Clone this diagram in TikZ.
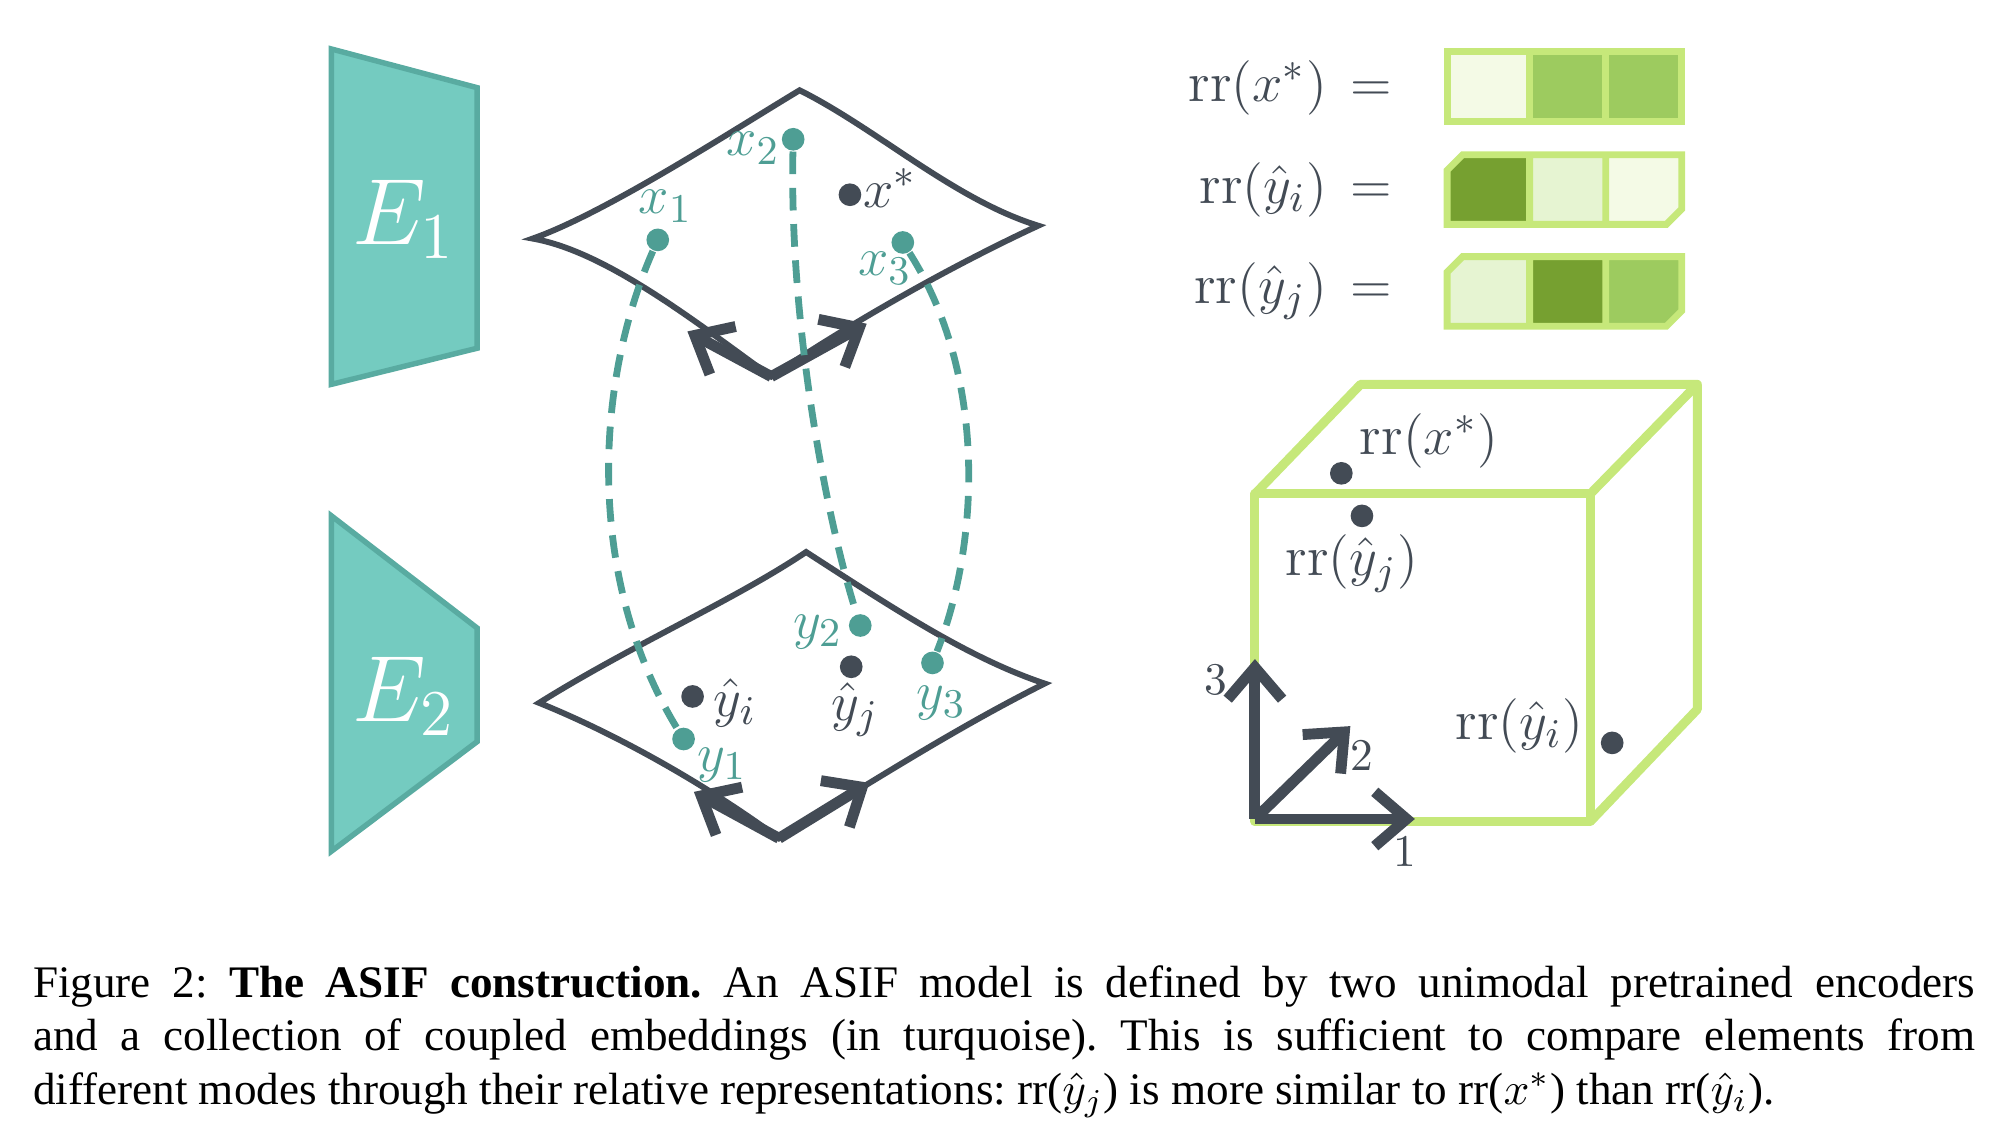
\documentclass[tikz,border=0pt]{standalone}
\usepackage{fontspec}
\newfontfamily\capfont{Liberation Serif}
\usetikzlibrary{arrows.meta}
\definecolor{teal1}{HTML}{74CBC0}
\definecolor{teal2}{HTML}{4E9E94}
\definecolor{dk}{HTML}{434B55}
\definecolor{lg}{HTML}{C6E87A}
\definecolor{c0}{HTML}{F4FAE6}
\definecolor{c1}{HTML}{E6F4D2}
\definecolor{c2}{HTML}{9DCB5F}
\definecolor{c3}{HTML}{76A030}
\begin{document}
\frenchspacing
\begin{tikzpicture}[x=0.01cm,y=-0.01cm,
  enc/.style={fill=teal1,draw=teal2!70!teal1,line width=1.2pt},
  sheet/.style={draw=dk,line width=1.3pt},
  arr/.style={draw=dk,line width=2.4pt,-{Straight Barb[length=7pt,width=12pt]}},
  tp/.style={circle,fill=teal2,inner sep=0pt,minimum size=5pt},
  dp/.style={circle,fill=dk,inner sep=0pt,minimum size=5pt},
  tl/.style={text=teal2,font=\fontsize{12.5}{15}\selectfont},
  dl/.style={text=dk,font=\fontsize{12.5}{15}\selectfont},
  rl/.style={text=dk,font=\fontsize{12.5}{15}\selectfont},
  tdash/.style={teal2,line width=1.5pt,dash pattern=on 5pt off 3pt},
  cube/.style={draw=lg,line width=2pt,line join=round},
  ax/.style={draw=dk,line width=2.4pt,-{Straight Barb[length=7pt,width=12pt]}},
  ]
\useasboundingbox (0,0) rectangle (1560,886);
% encoders
\draw[enc] (257,38) -- (370,68) -- (370,270) -- (257,298) -- cycle;
\node[text=white,font=\fontsize{22}{26}\selectfont] (e1) at (313,170) {$E_1$};
\draw[enc] (257,400) -- (370,487) -- (370,575) -- (257,660) -- cycle;
\node[text=white,font=\fontsize{22}{26}\selectfont] (e2) at (313,540) {$E_2$};
% sheets
\draw[sheet] (413,185) .. controls (470,165) and (570,100) .. (620,70)
  .. controls (680,100) and (740,155) .. (805,175)
  .. controls (740,205) and (660,250) .. (598,292)
  .. controls (540,250) and (470,195) .. cycle;
\draw[sheet] (418,545) .. controls (490,500) and (570,465) .. (625,428)
  .. controls (690,470) and (750,510) .. (810,530)
  .. controls (740,565) and (670,610) .. (604,650)
  .. controls (550,610) and (480,570) .. cycle;
\coordinate (b1) at (598,292);
\coordinate (b1l) at (533,257);
\coordinate (b1r) at (672,251);
\draw[arr] (b1) -- (b1l); \draw[arr] (b1) -- (b1r);
\coordinate (b2) at (604,650);
\coordinate (b2l) at (538,614);
\coordinate (b2r) at (674,607);
\draw[arr] (b2) -- (b2l); \draw[arr] (b2) -- (b2r);
% points
\node[tp] (x1) at (510,186) {}; \node[tl] at (516,160) {$x_1$};
\node[tp] (x2) at (615,108) {}; \node[tl] at (584,115) {$x_2$};
\node[dp] (xs) at (659,151) {}; \node[dl] at (690,146) {$x^*$};
\node[tp] (x3) at (700,188) {}; \node[tl] at (686,208) {$x_3$};
\node[tp] (y1) at (530,573) {}; \node[tl] at (560,593) {$y_1$};
\node[tp] (y2) at (667,485) {}; \node[tl] at (634,490) {$y_2$};
\node[tp] (y3) at (723,514) {}; \node[tl] at (730,545) {$y_3$};
\node[dp] (yi) at (537,540) {}; \node[dl] at (570,545) {$\hat y_i$};
\node[dp] (yj) at (660,517) {}; \node[dl] at (663,550) {$\hat y_j$};
\draw[tdash] (x1) .. controls (460,300) and (455,450) .. (y1);
\draw[tdash] (x2) .. controls (612,250) and (640,400) .. (y2);
\draw[tdash] (x3) .. controls (765,290) and (760,420) .. (y3);
% vectors
\node[rl,anchor=east] (r1) at (1092,68) {$\mathrm{rr}(x^*)\,=$};
\node[rl,anchor=east] (r2) at (1092,147) {$\mathrm{rr}(\hat y_i)\,=$};
\node[rl,anchor=east] (r3) at (1092,226) {$\mathrm{rr}(\hat y_j)\,=$};
\begin{scope}[line width=1.5pt]
\fill[c0] (1122,40) rectangle (1186,94);
\fill[c2] (1186,40) rectangle (1304,94);
\draw[lg] (1122,40) rectangle (1304,94) (1186,40) -- (1186,94) (1245,40) -- (1245,94);
\fill[c3] (1134,120) -- (1186,120) -- (1186,174) -- (1122,174) -- (1122,132) -- cycle;
\fill[c1] (1186,120) rectangle (1245,174);
\fill[c0] (1245,120) -- (1304,120) -- (1304,162) -- (1292,174) -- (1245,174) -- cycle;
\draw[lg] (1134,120) -- (1304,120) -- (1304,162) -- (1292,174) -- (1122,174) -- (1122,132) -- cycle
  (1186,120) -- (1186,174) (1245,120) -- (1245,174);
\fill[c1] (1134,199) -- (1186,199) -- (1186,253) -- (1122,253) -- (1122,211) -- cycle;
\fill[c3] (1186,199) rectangle (1245,253);
\fill[c2] (1245,199) -- (1304,199) -- (1304,241) -- (1292,253) -- (1245,253) -- cycle;
\draw[lg] (1134,199) -- (1304,199) -- (1304,241) -- (1292,253) -- (1122,253) -- (1122,211) -- cycle
  (1186,199) -- (1186,253) (1245,199) -- (1245,253);
\end{scope}
% cube
\draw[cube] (973,383) rectangle (1233,637);
\draw[cube] (973,383) -- (1055,298) -- (1316,298) -- (1233,383);
\draw[cube] (1316,298) -- (1316,550) -- (1233,637);
\node[dp] (p1) at (1040,367) {}; \node[rl] at (1108,342) {$\mathrm{rr}(x^*)$};
\node[dp] (p2) at (1056,400) {}; \node[rl] at (1048,437) {$\mathrm{rr}(\hat y_j)$};
\node[dp] (p3) at (1250,576) {}; \node[rl] at (1178,563) {$\mathrm{rr}(\hat y_i)$};
% axes
\coordinate (o) at (973,635);
\coordinate (a1) at (1097,635);
\coordinate (a3) at (973,511);
\coordinate (a2) at (1047,563);
\draw[ax] (o) -- (a1); \draw[ax] (o) -- (a3); \draw[ax] (o) -- (a2);
\node[dl,font=\fontsize{10}{12}\selectfont] at (1089,660) {1};
\node[dl,font=\fontsize{10}{12}\selectfont] at (1056,586) {2};
\node[dl,font=\fontsize{10}{12}\selectfont] at (943,527) {3};
% caption
\node[anchor=north west,inner sep=0pt,text width=15.05cm,align=justify,
  font=\capfont\fontsize{9.95}{11.8}\selectfont] (cap) at (25,748)
{Figure 2: \textbf{The ASIF construction.} An ASIF model is defined by two unimodal pretrained encoders\linebreak
and a collection of coupled embeddings (in turquoise). This is sufficient to compare elements from\linebreak
different modes through their relative representations: rr($\hat y_j$) is more similar to rr($x^*$) than rr($\hat y_i$).};
\end{tikzpicture}
\end{document}
